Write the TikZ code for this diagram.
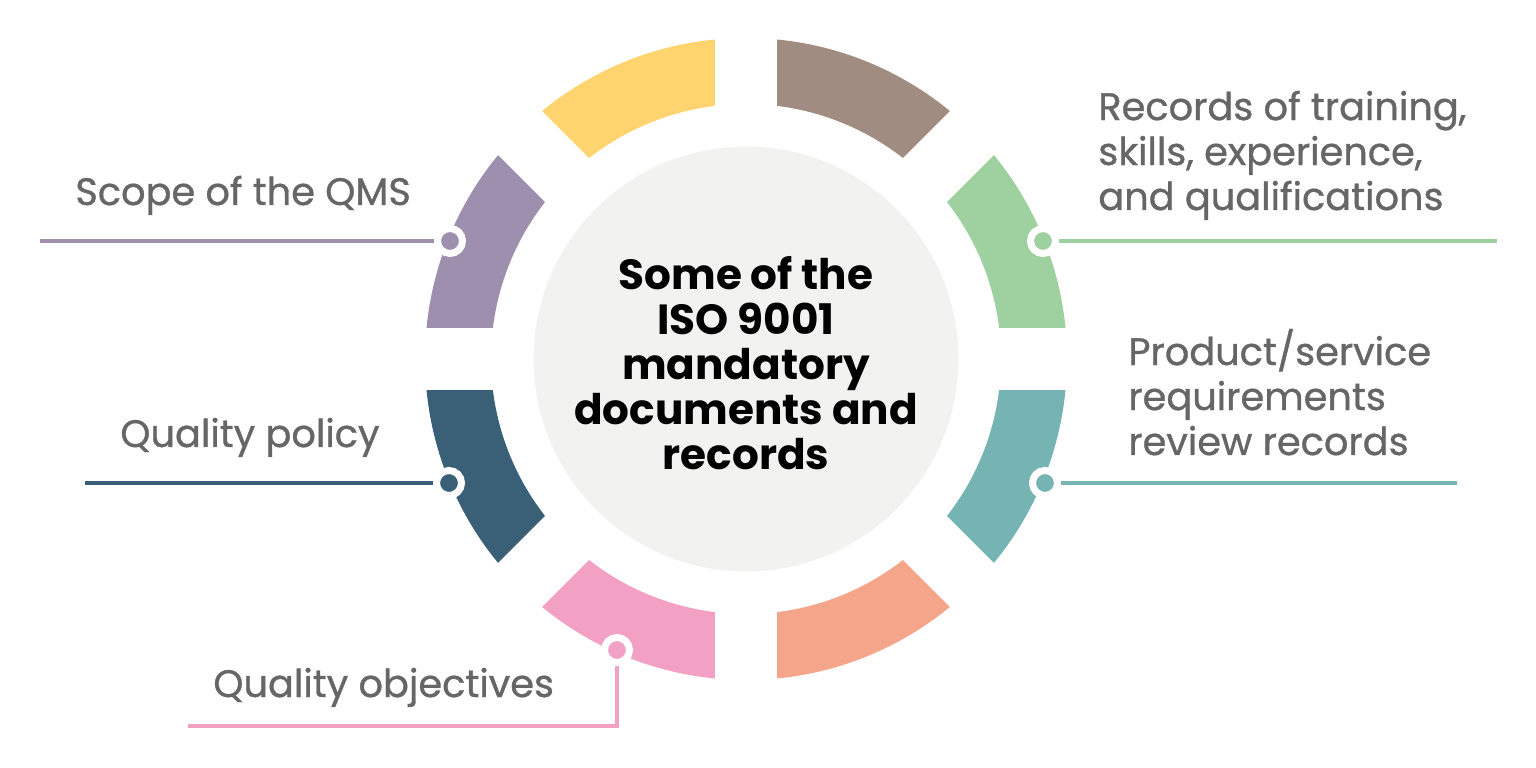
\documentclass[tikz,border=0pt]{standalone}
\usepackage{fontspec}
\setmainfont{Poppins}
\newfontfamily\labelfont{Poppins}[UprightFeatures={FakeBold=0.9}]
\usetikzlibrary{positioning}
\usetikzlibrary{calc}
\definecolor{cyellow}{HTML}{FFD36E}
\definecolor{cbrown}{HTML}{A08C80}
\definecolor{cgreen}{HTML}{9FD09F}
\definecolor{cteal}{HTML}{76B3B3}
\definecolor{csalmon}{HTML}{F4A58A}
\definecolor{cpink}{HTML}{F2A0C4}
\definecolor{cblue}{HTML}{3A6078}
\definecolor{cpurple}{HTML}{9D8FAD}
\definecolor{ctext}{HTML}{666666}
\definecolor{chub}{HTML}{F2F2F1}
\tikzset{
  marker/.style={circle, draw=white, line width=4pt, minimum size=0.5cm, inner sep=0pt},
  leader/.style={line width=2.4pt},
  label/.style={text=ctext, font=\labelfont\fontsize{21.8}{25.6}\selectfont, align=left, anchor=base west, inner sep=0pt},
}
\begin{document}
\begin{tikzpicture}[x=0.02cm, y=0.02cm]
            \useasboundingbox (0,0) rectangle (1536,768);
            % Define the radii of the ring
            \def\outer{321}
            \def\inner{255}
            \coordinate (O) at (746,409);
            % Ring segments
            \foreach \a/\c in {0/cgreen, 45/cbrown, 90/cyellow, 135/cpurple, 180/cblue, 225/cpink, 270/csalmon, 315/cteal} {
                \fill[\c] (O) ++(\a:\outer) arc[start angle=\a, end angle=\a+45, radius=\outer]
                    -- ($(O)+(\a+45:\inner)$) arc[start angle=\a+45, end angle=\a, radius=\inner] -- cycle;
            }
            % Gaps between the segments
            \foreach \a in {0,45,90,135} {
                \draw[white, line width=1.24cm] (O) ++(\a:340) -- ++(\a+180:680);
            }
            % Hub
            \node[circle, fill=chub, minimum size=8.5cm, inner sep=0pt] (hub) at (O) {};
            \node[font=\fontsize{24}{25.6}\selectfont\bfseries, align=center] at ($(O)+(0,-4)$) {Some of the\\ISO 9001\\mandatory\\documents and\\records};

            % Markers
            \node[marker, fill=cpurple] (M1) at (450,527) {};
            \node[marker, fill=cgreen] (M2) at (1043,527) {};
            \node[marker, fill=cblue] (M3) at (449,285) {};
            \node[marker, fill=cteal] (M4) at (1045,285) {};
            \node[marker, fill=cpink] (M5) at (617,118) {};
            \coordinate (P1) at (40,527);
            \coordinate (P2) at (1497,527);
            \coordinate (P3) at (85,285);
            \coordinate (P4) at (1457,285);
            \coordinate (P5) at (188,42);

            % Leaders
            \draw[leader, cpurple] (M1) -- (P1);
            \draw[leader, cgreen] (M2) -- (P2);
            \draw[leader, cblue] (M3) -- (P3);
            \draw[leader, cteal] (M4) -- (P4);
            \draw[leader, cpink] (M5) |- (P5);

            % Labels
            \node[label] (L1) at (75,563) {Scope of the QMS};
            \node[label] (L2) at (1098,558) {Records of training,\\skills, experience,\\and qualifications};
            \node[label] (L3) at (120,321) {Quality policy};
            \node[label] (L4) at (1128,313) {Product/service\\requirements\\review records};
            \node[label] (L5) at (213,71) {Quality objectives};
        \end{tikzpicture}
\end{document}
